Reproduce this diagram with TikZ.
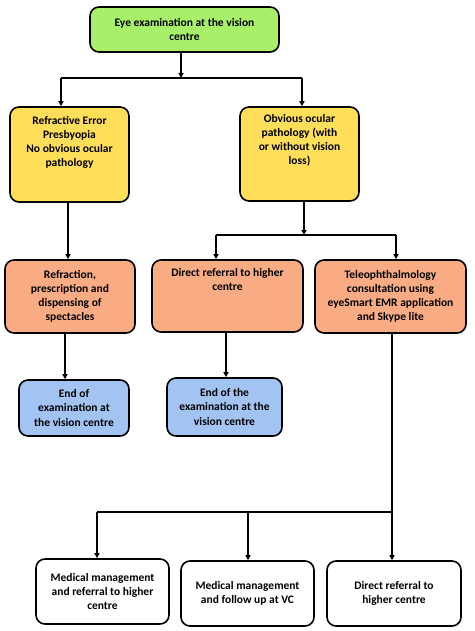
\documentclass[tikz,border=0pt]{standalone}
\usepackage{fontspec}
\setmainfont{Carlito}
\usetikzlibrary{arrows.meta}
\definecolor{cgreen}{RGB}{168,240,106}
\definecolor{cyellow}{RGB}{255,222,90}
\definecolor{corange}{RGB}{249,172,132}
\definecolor{cblue}{RGB}{163,196,243}
\tikzset{
  box/.style={draw=black, line width=1.6pt, rounded corners=9pt, inner sep=0pt,
    font=\bfseries\fontsize{11.5}{14.2}\selectfont, align=center},
  conn/.style={line width=1.5pt},
  arr/.style={conn, -{Triangle[length=5pt,width=5pt]}},
}
\newcommand{\topbox}[4]{\parbox[c][#2pt][t]{#1pt}{\centering\vspace*{#3pt}#4}}
\begin{document}
\begin{tikzpicture}[x=1pt,y=-1pt]
\useasboundingbox[fill=white] (0,0) rectangle (474,631);
% level 1
\node[box, fill=cgreen, minimum width=189, minimum height=45] (g) at (184.5,29.5) {Eye examination at the vision\\centre};
% level 2
\node[box, fill=cyellow] (yl) at (69.5,154.5) {\topbox{119}{95}{9}{Refractive Error\\Presbyopia\\No obvious ocular\\pathology}};
\node[box, fill=cyellow] (yr) at (299.5,154) {\topbox{119}{94}{7}{Obvious ocular\\pathology (with\\or without vision\\loss)}};
% level 3
\node[box, fill=corange, minimum width=130, minimum height=73] (ol) at (70,296.5) {Refraction,\\prescription and\\dispensing of\\spectacles};
\node[box, fill=corange] (om) at (227.5,296) {\topbox{151}{72}{8}{Direct referral to higher\\centre}};
\node[box, fill=corange, minimum width=151, minimum height=73] (or) at (390.5,296.5) {Teleophthalmology\\consultation using\\eyeSmart EMR application\\and Skype lite};
% level 4
\node[box, fill=cblue, minimum width=110, minimum height=56] (bl) at (74,408) {End of\\examination at\\the vision centre};
\node[box, fill=cblue, minimum width=115, minimum height=58] (bm) at (224.5,407) {End of the\\examination at the\\vision centre};
% level 5
\node[box, fill=white, minimum width=133, minimum height=65] (wl) at (102.5,591.5) {Medical management\\and referral to higher\\centre};
\node[box, fill=white, minimum width=133, minimum height=65] (wm) at (247.5,593.5) {Medical management\\and follow up at VC};
\node[box, fill=white, minimum width=134, minimum height=65] (wr) at (394,593.5) {Direct referral to\\higher centre};
% connectors
\coordinate (j1) at (181,78);
\coordinate (j1l) at (61,78);
\coordinate (j1r) at (302,78);
\draw[arr] (g.south -| j1) -- (j1);
\draw[conn] (j1l) -- (j1r);
\draw[arr] (j1l) -- (yl.north -| j1l);
\draw[arr] (j1r) -- (yr.north -| j1r);
\coordinate (a1) at (68,0);
\draw[arr] (yl.south -| a1) -- (ol.north -| a1);
\coordinate (j2) at (304,235);
\coordinate (j2l) at (216,235);
\coordinate (j2r) at (396,235);
\draw[arr] (yr.south -| j2) -- (j2);
\draw[conn] (j2l) -- (j2r);
\draw[arr] (j2l) -- (om.north -| j2l);
\draw[arr] (j2r) -- (or.north -| j2r);
\coordinate (a2) at (65,0);
\draw[arr] (ol.south -| a2) -- (bl.north -| a2);
\coordinate (a3) at (226,0);
\draw[arr] (om.south -| a3) -- (bm.north -| a3);
\coordinate (j3) at (392,512);
\coordinate (j3l) at (97,512);
\coordinate (j3m) at (248,512);
\draw[conn] (or.south -| j3) -- (j3);
\draw[conn] (j3l) -- (j3);
\draw[arr] (j3) -- (wr.north -| j3);
\draw[arr] (j3l) -- (wl.north -| j3l);
\draw[arr] (j3m) -- (wm.north -| j3m);
\end{tikzpicture}
\end{document}
